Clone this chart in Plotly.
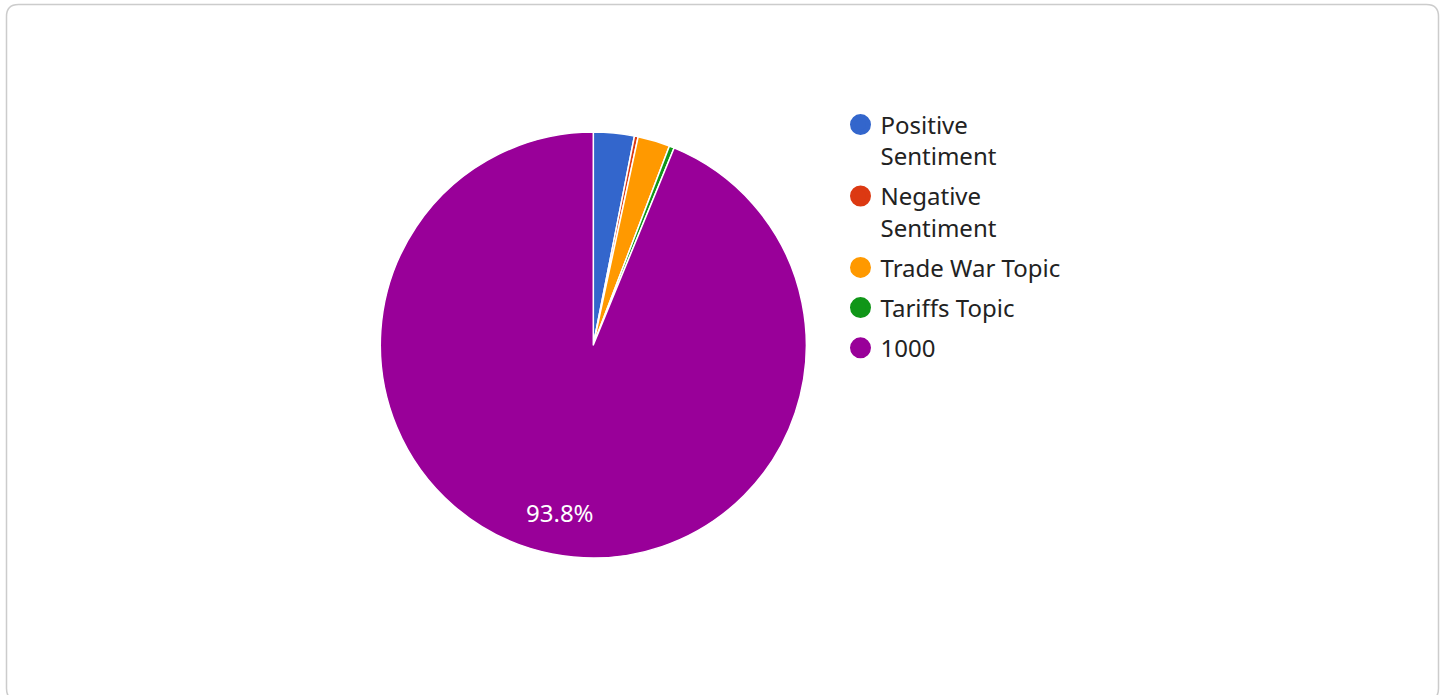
import math
import plotly.graph_objects as go

labels = ["Positive Sentiment", "Negative Sentiment", "Trade War Topic", "Tariffs Topic", "1000"]
legend_names = ["Positive<br>Sentiment", "Negative<br>Sentiment", "Trade War Topic", "Tariffs Topic", "1000"]
values = [33, 3, 26, 4, 1000]
colors = ["#3366cc", "#dc3912", "#ff9900", "#109618", "#990099"]
show_label = [False, False, False, False, True]

W, H = 1447, 695
FONT = "Noto Sans"

# pie geometry (pixels)
CX, CY, R = 593.3, 345.0, 213.0
dom_x = [(CX - R) / W, (CX + R) / W]
dom_y = [1 - (CY + R) / H, 1 - (CY - R) / H]

fig = go.Figure()

fig.add_trace(go.Pie(
    labels=labels,
    values=values,
    sort=False,
    direction="clockwise",
    rotation=0,
    marker=dict(colors=colors, line=dict(color="white", width=1.5)),
    textinfo="none",
    showlegend=False,
    hoverinfo="label+value+percent",
    domain=dict(x=dom_x, y=dom_y),
))

# percentage labels, placed at 0.8 R along each labelled slice's mid-angle
total = sum(values)
annotations = []
cum = 0.0
for v, s in zip(values, show_label):
    frac = v / total
    mid = (cum + frac / 2) * 2 * math.pi
    cum += frac
    if not s:
        continue
    px = CX + 0.8 * R * math.sin(mid)
    py = CY - 0.8 * R * math.cos(mid)
    annotations.append(dict(
        x=px / W, y=1 - py / H, xref="paper", yref="paper",
        text=f"{frac * 100:.1f}%", showarrow=False,
        xanchor="center", yanchor="middle",
        font=dict(family=FONT, size=24, color="white"),
    ))

# legend entries (circle symbols) mirroring the pie slices
for name, col in zip(legend_names, colors):
    fig.add_trace(go.Scatter(
        x=[None], y=[None], mode="markers", name=name,
        legendgroup=name,
        marker=dict(symbol="circle", size=16, color=col, line=dict(color=col, width=5)),
        hoverinfo="skip",
    ))

fig.update_layout(
    width=W, height=H,
    margin=dict(l=0, r=0, t=0, b=0),
    paper_bgcolor="white",
    plot_bgcolor="white",
    xaxis=dict(visible=False),
    yaxis=dict(visible=False),
    font=dict(family=FONT, color="#222222"),
    annotations=annotations,
    legend=dict(
        x=840.5 / W, y=1 - 102.5 / H, xanchor="left", yanchor="top",
        font=dict(family=FONT, size=24, color="#222222"),
        valign="top",
        tracegroupgap=6,
        bgcolor="rgba(0,0,0,0)",
    ),
    shapes=[dict(
        type="path", xref="paper", yref="paper", layer="below",
        path=("M {l},{t1} Q {l},{t} {l1},{t} L {r1},{t} Q {r},{t} {r},{t1} "
              "L {r},{b1} Q {r},{b} {r1},{b} L {l1},{b} Q {l},{b} {l},{b1} Z").format(
            l=6.5 / W, l1=18.5 / W, r=1438.5 / W, r1=1426.5 / W,
            t=1 - 4.5 / H, t1=1 - 16.5 / H, b=1 - 700.5 / H, b1=1 - 688.5 / H),
        line=dict(color="#cccccc", width=1.5),
        fillcolor="rgba(0,0,0,0)",
    )],
)

fig.write_html(
    "out.html",
    config={"displayModeBar": False},
    post_script="document.body.style.margin='0';document.body.style.overflow='hidden';",
)
